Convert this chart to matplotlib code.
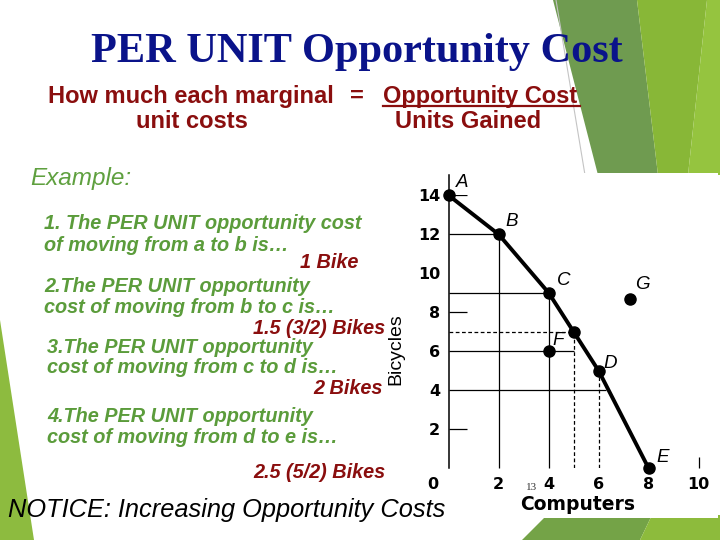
import matplotlib
matplotlib.use('Agg')
import matplotlib.pyplot as plt
from matplotlib.patches import Polygon, Rectangle
from matplotlib.transforms import ScaledTranslation

# 数据：生产可能性曲线
computers = [0, 2, 4, 5, 6, 8]
bicycles = [14, 12, 9, 7, 5, 0]
curve_labels = ['A', 'B', 'C', '', 'D', 'E']
label_offsets = [(10, 9), (9, 9), (11, 9), (0, 0), (8, 5), (10, 8)]

extra_x = [4, 7.25]
extra_y = [6, 8.7]
extra_labels = ['F', 'G']
extra_offsets = [(7, 8), (9, 10)]

x_ticks = [0, 2, 4, 6, 8, 10]
y_ticks = [2, 4, 6, 8, 10, 12, 14]

# 辅助线
solid_h_y = [12, 9, 6, 4]
solid_h_x = [2, 4, 5, 6.3]
solid_v_x = [2, 4, 10]
solid_v_top = [12, 9, 0.6]
dash_h_y = [7]
dash_h_x = [5]
dash_v_x = [5, 6]
dash_v_top = [7, 5]
short_tick_y = [14, 8, 2]

# 左侧文字
steps = [
    ("1. The PER UNIT opportunity cost", 44, 229),
    ("of moving from a to b is…", 44, 251),
    ("2.The PER UNIT opportunity", 44, 292),
    ("cost of moving from b to c is…", 44, 313),
    ("3.The PER UNIT opportunity", 47, 353),
    ("cost of moving from c to d is…", 47, 373),
    ("4.The PER UNIT opportunity", 47, 422),
    ("cost of moving from d to e is…", 47, 443),
]
answers = [
    ("1 Bike", 358, 268),
    ("1.5 (3/2) Bikes", 385, 334),
    ("2 Bikes", 383, 394),
    ("2.5 (5/2) Bikes", 385, 478),
]

navy = '#0a138a'
dark_red = '#8a0e0e'
green_txt = '#5b9c3b'

fig = plt.figure(figsize=(7.2, 5.4), dpi=100)
fig.patch.set_facecolor('white')

# 背景（像素坐标）
bg = fig.add_axes([0, 0, 1, 1])
bg.set_xlim(0, 720)
bg.set_ylim(540, 0)
bg.axis('off')

# 右上角绿色装饰
bg.add_patch(Polygon([(553, 0), (637, 0), (658, 175), (598, 175)], closed=True,
                     facecolor='#6f9b50', edgecolor='none', zorder=1))
bg.add_patch(Polygon([(637, 0), (707, 0), (688, 175), (658, 175)], closed=True,
                     facecolor='#88b737', edgecolor='none', zorder=1))
bg.add_patch(Polygon([(707, 0), (720, 0), (720, 175), (688, 175)], closed=True,
                     facecolor='#95c43f', edgecolor='none', zorder=1))
bg.plot([556, 585], [0, 175], color='#c4c4c4', lw=0.8, zorder=1)
# 底部绿色装饰
bg.add_patch(Polygon([(547, 515), (652, 515), (640, 540), (522, 540)], closed=True,
                     facecolor='#74a347', edgecolor='none', zorder=1))
bg.add_patch(Polygon([(652, 515), (720, 515), (720, 540), (640, 540)], closed=True,
                     facecolor='#8dbb3c', edgecolor='none', zorder=1))
# 左下角绿色三角
bg.add_patch(Polygon([(0, 320), (34, 540), (0, 540)], closed=True,
                     facecolor='#8dbb3f', edgecolor='none', zorder=1))
# 图片白色底框
bg.add_patch(Rectangle((398, 173), 320, 345, facecolor='white', edgecolor='none', zorder=2))

# 标题与公式
bg.text(357, 62, "PER UNIT Opportunity Cost", family='Liberation Serif', weight='bold',
        fontsize=30.5, color=navy, ha='center', va='baseline', zorder=5)
bg.text(48, 102.5, "How much each marginal", family='Liberation Sans', weight='bold',
        fontsize=17, color=dark_red, ha='left', va='baseline', zorder=5)
bg.text(357, 102.5, "=", family='Liberation Sans', weight='bold',
        fontsize=17, color=dark_red, ha='center', va='baseline', zorder=5)
bg.text(383, 102.5, "Opportunity Cost", family='Liberation Sans', weight='bold',
        fontsize=17, color=dark_red, ha='left', va='baseline', zorder=5)
bg.plot([383, 580], [106, 106], color=dark_red, lw=1.6, zorder=5)
bg.text(192, 128, "unit costs", family='Liberation Sans', weight='bold',
        fontsize=17, color=dark_red, ha='center', va='baseline', zorder=5)
bg.text(395, 128, "Units Gained", family='Liberation Sans', weight='bold',
        fontsize=17, color=dark_red, ha='left', va='baseline', zorder=5)

bg.text(30, 185, "Example:", family='Liberation Sans', style='italic',
        fontsize=17.5, color='#5fa03f', ha='left', va='baseline', zorder=5)
for txt, x, y in steps:
    bg.text(x, y, txt, family='Liberation Sans', style='italic', weight='bold',
            fontsize=14.3, color=green_txt, ha='left', va='baseline', zorder=5)
for txt, x, y in answers:
    bg.text(x, y, txt, family='Liberation Sans', style='italic', weight='bold',
            fontsize=14.3, color=dark_red, ha='right', va='baseline', zorder=5)
bg.text(8, 517, "NOTICE: Increasing Opportunity Costs", family='Liberation Sans',
        style='italic', fontsize=18.3, color='black', ha='left', va='baseline', zorder=5)
bg.text(532, 490, "13", family='Liberation Serif', fontsize=8, color='#333333',
        ha='center', va='baseline', zorder=5)

# 图表
ax = fig.add_axes([448.7 / 720, 1 - 468.4 / 540, 250 / 720, 273 / 540])
ax.set_facecolor('none')
ax.set_zorder(3)
ax.set_xlim(0, 10)
ax.set_ylim(0, 14)
for s in ax.spines.values():
    s.set_visible(False)

ax.set_xticks(x_ticks)
ax.set_yticks(y_ticks)
ax.tick_params(length=0, labelsize=11.5, pad=6)
for lbl in ax.get_xticklabels() + ax.get_yticklabels():
    lbl.set_fontfamily('DejaVu Sans')
    lbl.set_fontweight('bold')
# 原点 "0" 向左偏移
zero_lbl = ax.get_xticklabels()[0]
zero_lbl.set_transform(zero_lbl.get_transform() + ScaledTranslation(-0.16, 0, fig.dpi_scale_trans))

# 纵轴线
ax.axvline(0, ymin=0, ymax=15.05 / 14, color='black', lw=1.1, clip_on=False)

ax.hlines(solid_h_y, 0, solid_h_x, colors='black', lw=0.9)
ax.vlines(solid_v_x, 0, solid_v_top, colors='black', lw=0.9, clip_on=False)
ax.hlines(dash_h_y, 0, dash_h_x, colors='black', lw=0.9, linestyles=(0, (3, 2)))
ax.vlines(dash_v_x, 0, dash_v_top, colors='black', lw=0.9, linestyles=(0, (3, 2)))
ax.hlines(short_tick_y, 0, 0.75, colors='black', lw=0.9)

ax.plot(computers, bicycles, color='black', lw=2.8, marker='o', ms=8,
        clip_on=False, zorder=4)
ax.plot(extra_x, extra_y, linestyle='none', color='black', marker='o', ms=8,
        clip_on=False, zorder=4)

for lab, x, y, (dx, dy) in zip(curve_labels + extra_labels, computers + extra_x,
                               bicycles + extra_y, label_offsets + extra_offsets):
    if lab:
        ax.annotate(lab, (x, y), xytext=(dx, dy), textcoords='offset points',
                    family='Liberation Sans', style='italic', fontsize=13.5,
                    ha='center', va='center', annotation_clip=False)

ax.set_ylabel("Bicycles", family='Liberation Sans', fontsize=14, labelpad=10)
ax.yaxis.set_label_coords(-0.178, (468.4 - 349) / 273)
ax.set_xlabel("Computers", family='DejaVu Sans', fontsize=13.5, weight='bold')
ax.xaxis.set_label_coords((578 - 448.7) / 250, -(504.5 - 468.4) / 273)
ax.xaxis.label.set_va('center')

fig.savefig('out.png', dpi=100)
